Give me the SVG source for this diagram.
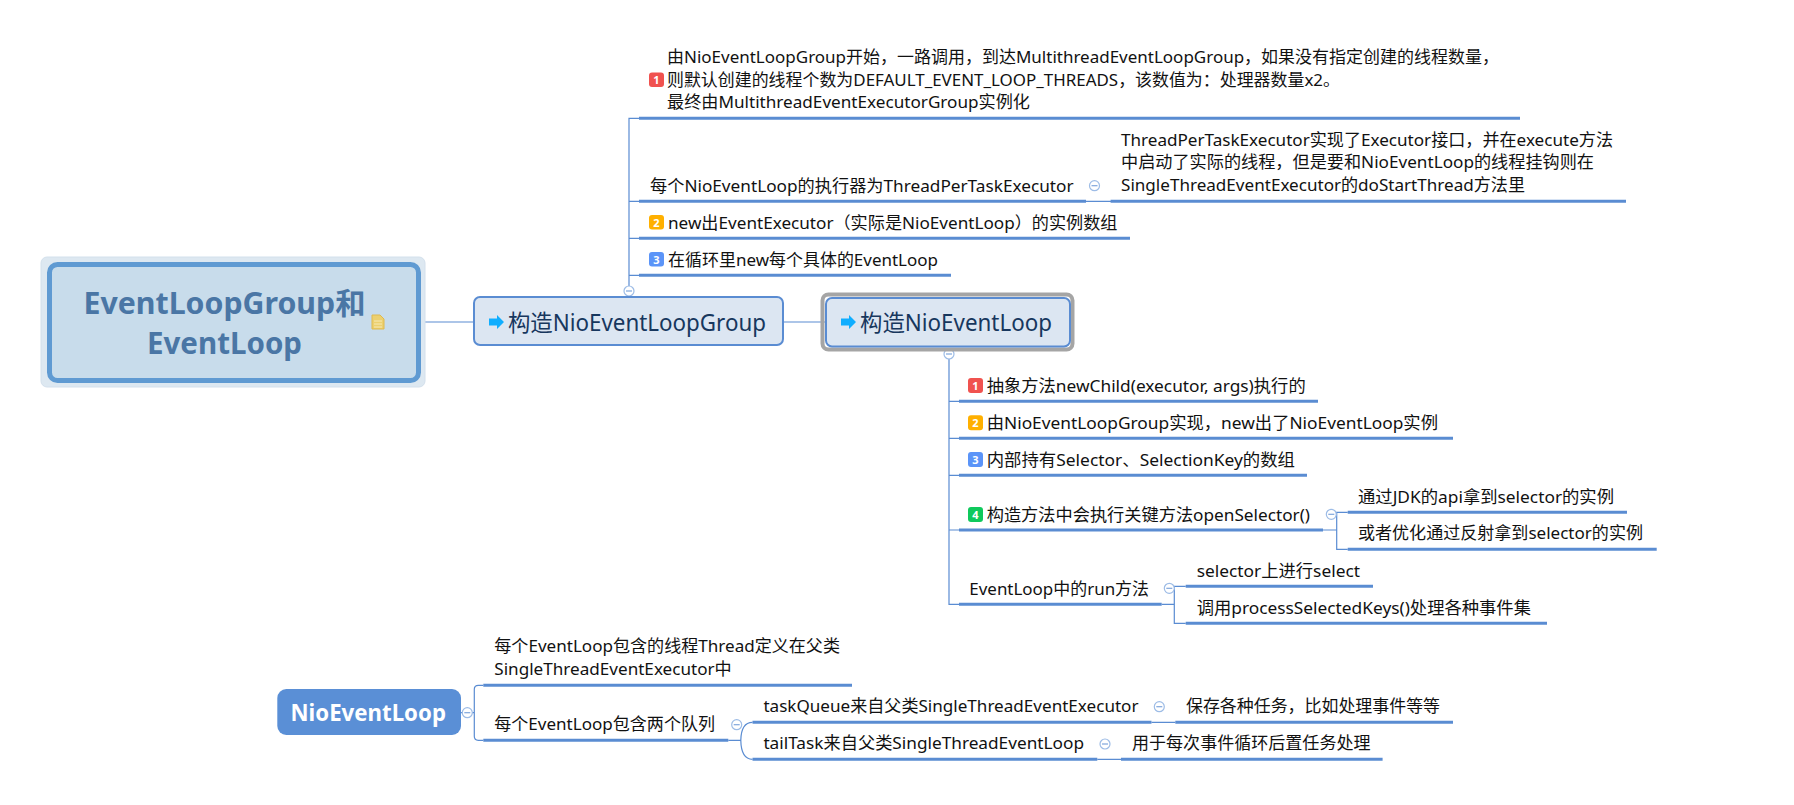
<svg xmlns="http://www.w3.org/2000/svg" width="1794" height="805" viewBox="0 0 1794 805">
<style>
text{font-family:"Noto Sans","Noto Sans CJK SC","DejaVu Sans",sans-serif}
.t{font-size:16.500px;fill:#111}
.n{font-size:23px;fill:#17375e}
.u{stroke:#5a8cd2;stroke-width:3;fill:none}
.c{stroke:#5a8cd2;stroke-width:1.200;fill:none}
.x{fill:#fff;stroke:#9dbce6;stroke-width:1.200}
.d{stroke:#7fa6dc;stroke-width:1.200}
.b{font-size:11px;font-weight:700;fill:#fff;text-anchor:middle}
.a{fill:#10aeff}
</style>
<defs>
<g id="col"><circle class="x" r="5"/><line class="d" x1="-3" x2="3" y1="0" y2="0"/></g>
<path id="arr" class="a" d="M0-3.500H8V-7L15 0L8 7V3.500H0Z"/>
</defs>
<rect width="1794" height="805" fill="#fff"/>
<g id="connectors">
<path class="c" d="M421 322H474M783 322H826"/>
<path class="c" d="M629 297V118.300H639M629 201.300H639M629 238.300H639M629 275.300H639M1086 201.300H1111"/>
<path class="c" d="M949 349V604.300H959M949 401.300H959M949 438.300H959M949 475.300H959M949 530H959"/>
<path class="c" d="M1323 530H1336.700M1347.700 512.300H1336.700V549.300H1347.700"/>
<path class="c" d="M1161.700 604.300H1174.300M1185.700 586.300H1174.300V623.300H1185.700"/>
<path class="c" d="M461 712.700H474.300M483.300 685.300H478.300Q474.300 685.300 474.300 689.300V736.300Q474.300 740.300 478.300 740.300H483.300"/>
<path class="c" d="M728.300 740.300H740.800M752.500 722.300C744 722.300 741 730 740.800 740.300C741 751 744 759.300 752.500 759.300"/>
<path class="c" d="M1151.500 722.300H1175.300M1097.300 759.300H1121"/>
<use href="#col" x="629" y="291"/>
<use href="#col" x="949" y="354"/>
<use href="#col" x="1094.500" y="185.700"/>
<use href="#col" x="1331.300" y="514.300"/>
<use href="#col" x="1169.300" y="588.300"/>
<use href="#col" x="467.300" y="712.700"/>
<use href="#col" x="736.700" y="724.700"/>
<use href="#col" x="1159.300" y="706.700"/>
<use href="#col" x="1105" y="744"/>
</g>
<g id="central">
<rect x="41" y="257" width="384" height="130" rx="6" fill="#dde8f1" stroke="#d3e0ec" stroke-width="1"/>
<rect x="49.500" y="264.500" width="369" height="116" rx="8" fill="#c8dceb" stroke="#5f9ad2" stroke-width="5"/>
<text x="83.500" y="314" font-size="30" font-weight="700" fill="#4a76a5" textLength="282" lengthAdjust="spacingAndGlyphs">EventLoopGroup和</text>
<text x="147" y="354" font-size="30" font-weight="700" fill="#4a76a5" textLength="155" lengthAdjust="spacingAndGlyphs">EventLoop</text>
<path d="M372 315H380L384 319V329H372Z" fill="#ecd06f" stroke="#dfb94f" stroke-width="1"/>
<path d="M374 321H382M374 324H382M374 327H382" stroke="#f7e9b5" stroke-width="1"/>
</g>
<g id="node-group">
<rect x="474" y="297" width="309" height="48" rx="6" fill="#dce6f2" stroke="#5a8cd2" stroke-width="2"/>
<use href="#arr" x="489" y="322"/>
<text class="n" x="508" y="331" textLength="258" lengthAdjust="spacingAndGlyphs">构造NioEventLoopGroup</text>
</g>
<g id="node-loop">
<rect x="822.500" y="294.500" width="250" height="55" rx="6" fill="none" stroke="#a5a5a5" stroke-width="4"/>
<rect x="826" y="298" width="244" height="48.500" rx="6" fill="#dce6f2" stroke="#5a8cd2" stroke-width="2"/>
<use href="#arr" x="841" y="322"/>
<text class="n" x="860" y="331" textLength="192" lengthAdjust="spacingAndGlyphs">构造NioEventLoop</text>
</g>
<g id="a1">
<rect x="649" y="72.500" width="15" height="14.500" rx="3" fill="#f0524f"/><text class="b" x="656.500" y="84">1</text>
<text class="t" x="667" y="63" textLength="832" lengthAdjust="spacingAndGlyphs">由NioEventLoopGroup开始，一路调用，到达MultithreadEventLoopGroup，如果没有指定创建的线程数量，</text>
<text class="t" x="667" y="85.500" textLength="673" lengthAdjust="spacingAndGlyphs">则默认创建的线程个数为DEFAULT_EVENT_LOOP_THREADS，该数值为：处理器数量x2。</text>
<text class="t" x="667" y="108" textLength="363" lengthAdjust="spacingAndGlyphs">最终由MultithreadEventExecutorGroup实例化</text>
<path class="u" d="M639 118.300H1520"/>
</g>
<g id="a2">
<text class="t" x="650" y="191.700" textLength="423.500" lengthAdjust="spacingAndGlyphs">每个NioEventLoop的执行器为ThreadPerTaskExecutor</text>
<path class="u" d="M639 201.300H1086"/>
</g>
<g id="a2-1">
<text class="t" x="1121" y="145.700" textLength="492" lengthAdjust="spacingAndGlyphs">ThreadPerTaskExecutor实现了Executor接口，并在execute方法</text>
<text class="t" x="1121" y="168.300" textLength="473" lengthAdjust="spacingAndGlyphs">中启动了实际的线程，但是要和NioEventLoop的线程挂钩则在</text>
<text class="t" x="1121" y="191" textLength="404" lengthAdjust="spacingAndGlyphs">SingleThreadEventExecutor的doStartThread方法里</text>
<path class="u" d="M1110.600 201.300H1626"/>
</g>
<g id="a3">
<rect x="649" y="215" width="15" height="14.500" rx="3" fill="#ffb000"/><text class="b" x="656.500" y="226.500">2</text>
<text class="t" x="668" y="229" textLength="449.500" lengthAdjust="spacingAndGlyphs">new出EventExecutor（实际是NioEventLoop）的实例数组</text>
<path class="u" d="M639 238.300H1130"/>
</g>
<g id="a4">
<rect x="649" y="252" width="15" height="14.500" rx="3" fill="#5b94f8"/><text class="b" x="656.500" y="263.500">3</text>
<text class="t" x="668" y="266" textLength="270" lengthAdjust="spacingAndGlyphs">在循环里new每个具体的EventLoop</text>
<path class="u" d="M639 275.300H951"/>
</g>
<g id="b1">
<rect x="968" y="378" width="15" height="15" rx="3" fill="#f0524f"/><text class="b" x="975.500" y="389.500">1</text>
<text class="t" x="986.700" y="391.700" textLength="319" lengthAdjust="spacingAndGlyphs">抽象方法newChild(executor, args)执行的</text>
<path class="u" d="M959 401.300H1318"/>
</g>
<g id="b2">
<rect x="968" y="415.300" width="15" height="15" rx="3" fill="#ffb000"/><text class="b" x="975.500" y="426.800">2</text>
<text class="t" x="986.700" y="429" textLength="451.300" lengthAdjust="spacingAndGlyphs">由NioEventLoopGroup实现，new出了NioEventLoop实例</text>
<path class="u" d="M959 438.300H1453"/>
</g>
<g id="b3">
<rect x="968" y="452" width="15" height="15" rx="3" fill="#5b94f8"/><text class="b" x="975.500" y="463.500">3</text>
<text class="t" x="986.700" y="466" textLength="308.300" lengthAdjust="spacingAndGlyphs">内部持有Selector、SelectionKey的数组</text>
<path class="u" d="M959 475.300H1307"/>
</g>
<g id="b4">
<rect x="968" y="507" width="15" height="15" rx="3" fill="#0fc95c"/><text class="b" x="975.500" y="518.500">4</text>
<text class="t" x="986.700" y="520.700" textLength="323.300" lengthAdjust="spacingAndGlyphs">构造方法中会执行关键方法openSelector()</text>
<path class="u" d="M959 530H1323"/>
</g>
<g id="b4-1">
<text class="t" x="1358" y="502.700" textLength="256" lengthAdjust="spacingAndGlyphs">通过JDK的api拿到selector的实例</text>
<path class="u" d="M1347.700 512.300H1627"/>
</g>
<g id="b4-2">
<text class="t" x="1358" y="539.300" textLength="285" lengthAdjust="spacingAndGlyphs">或者优化通过反射拿到selector的实例</text>
<path class="u" d="M1347.700 549.300H1656.700"/>
</g>
<g id="b5">
<text class="t" x="969.300" y="595" textLength="179.700" lengthAdjust="spacingAndGlyphs">EventLoop中的run方法</text>
<path class="u" d="M959 604.300H1161.700"/>
</g>
<g id="b5-1">
<text class="t" x="1196.700" y="576.700" textLength="163.300" lengthAdjust="spacingAndGlyphs">selector上进行select</text>
<path class="u" d="M1185.700 586.300H1373"/>
</g>
<g id="b5-2">
<text class="t" x="1196.700" y="614" textLength="334.300" lengthAdjust="spacingAndGlyphs">调用processSelectedKeys()处理各种事件集</text>
<path class="u" d="M1185.700 623.300H1547"/>
</g>
<g id="nio">
<rect x="277.300" y="689" width="183.700" height="46" rx="9" fill="#5a8fd6"/>
<text x="290.500" y="720.500" font-size="23" font-weight="700" fill="#fff" textLength="155.500" lengthAdjust="spacingAndGlyphs">NioEventLoop</text>
</g>
<g id="c1">
<text class="t" x="494.300" y="652.300" textLength="345.700" lengthAdjust="spacingAndGlyphs">每个EventLoop包含的线程Thread定义在父类</text>
<text class="t" x="494.300" y="675" textLength="237.400" lengthAdjust="spacingAndGlyphs">SingleThreadEventExecutor中</text>
<path class="u" d="M483.300 685.300H852"/>
</g>
<g id="c2">
<text class="t" x="494.300" y="730" textLength="220.700" lengthAdjust="spacingAndGlyphs">每个EventLoop包含两个队列</text>
<path class="u" d="M483.300 740.300H728.300"/>
</g>
<g id="c2-1">
<text class="t" x="763.400" y="712.300" textLength="375.100" lengthAdjust="spacingAndGlyphs">taskQueue来自父类SingleThreadEventExecutor</text>
<path class="u" d="M752.500 722.300H1151.500"/>
</g>
<g id="c2-1-1">
<text class="t" x="1186" y="712.300" textLength="254" lengthAdjust="spacingAndGlyphs">保存各种任务，比如处理事件等等</text>
<path class="u" d="M1175.300 722.300H1453"/>
</g>
<g id="c2-2">
<text class="t" x="763.400" y="749.300" textLength="320.600" lengthAdjust="spacingAndGlyphs">tailTask来自父类SingleThreadEventLoop</text>
<path class="u" d="M752.500 759.300H1097.300"/>
</g>
<g id="c2-2-1">
<text class="t" x="1132" y="749.300" textLength="238.500" lengthAdjust="spacingAndGlyphs">用于每次事件循环后置任务处理</text>
<path class="u" d="M1121 759.300H1382.600"/>
</g>
</svg>
